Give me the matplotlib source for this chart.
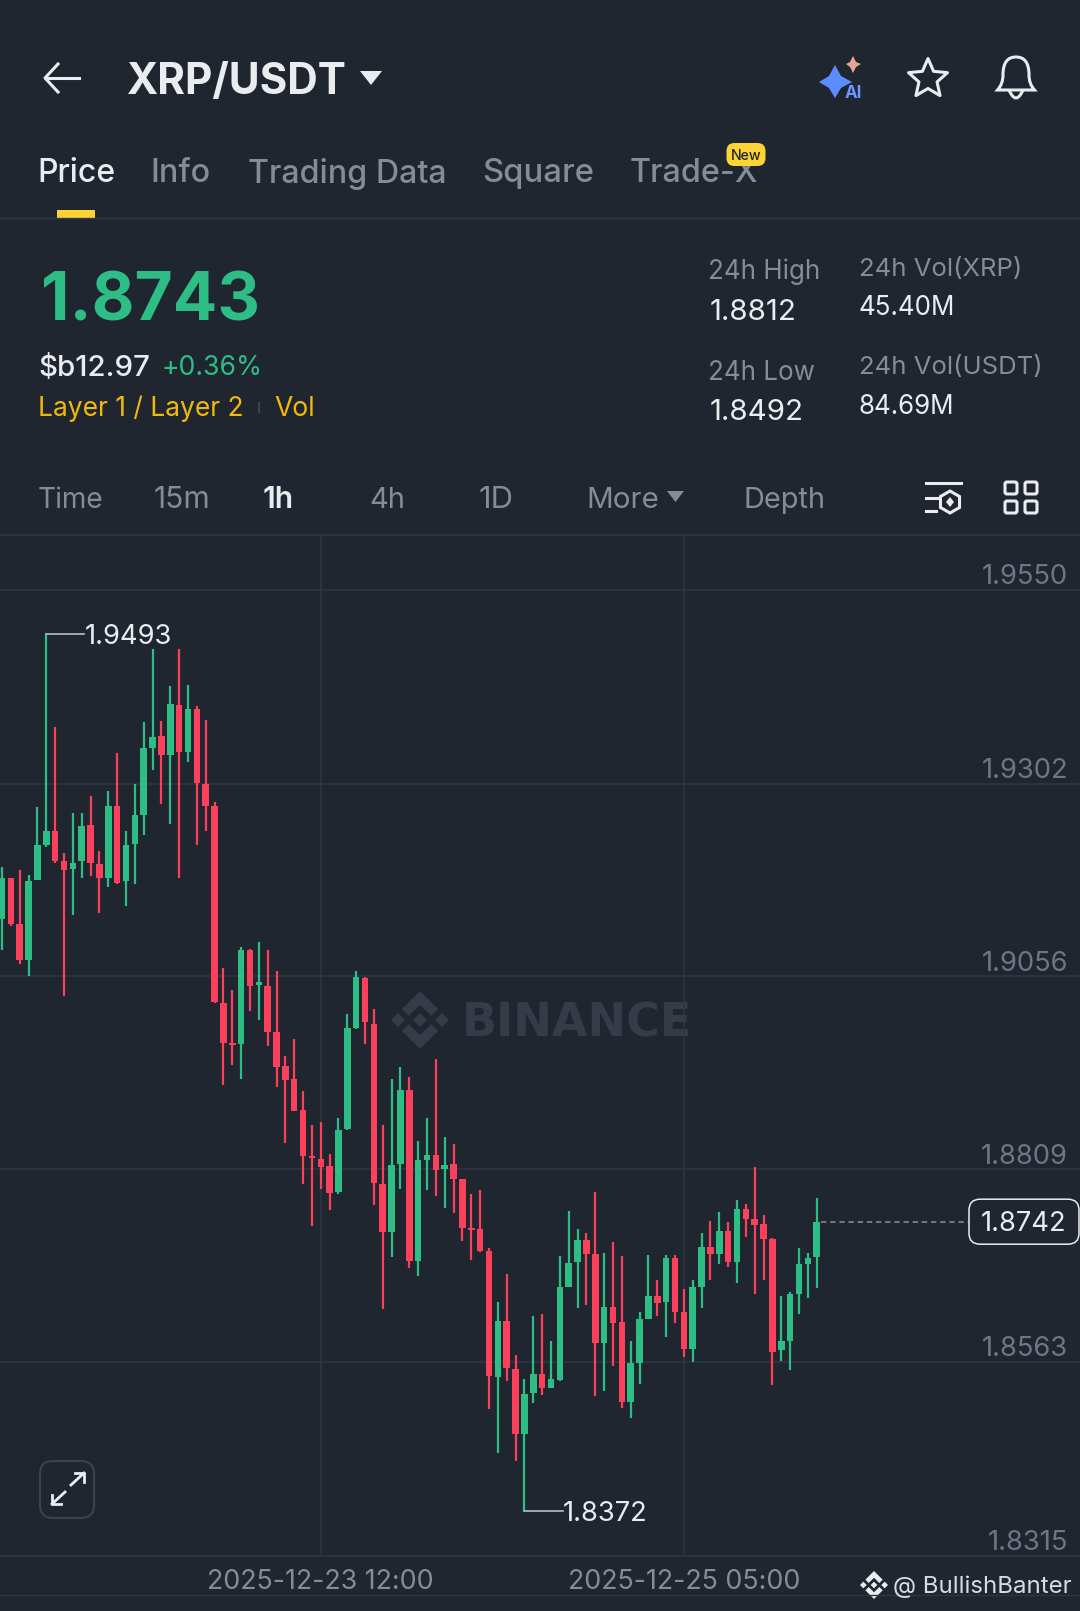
# xrp_chart.py
# Binance style XRP/USDT 1h candle screen, drawn with matplotlib
import matplotlib
matplotlib.use('Agg')
import matplotlib.pyplot as plt
import numpy as np
from matplotlib.patches import FancyBboxPatch, PathPatch, Polygon, RegularPolygon
from matplotlib.path import Path

plt.rcParams['font.family'] = ['Inter', 'DejaVu Sans']

# candle data, hourly
opens = [1.9129,1.9181,1.9123,1.9076,1.9179,1.9224,1.9242,1.9203,1.9193,1.9203,
         1.9249,1.9199,1.9181,1.9273,1.9177,1.9225,1.9262,1.9348,1.9363,1.9339,
         1.9403,1.9343,1.9397,1.9302,1.9273,1.9022,1.8970,1.8969,1.9089,1.9045,
         1.9043,1.8984,1.8941,1.8924,1.8885,1.8826,1.8822,1.8813,1.8780,1.8860,
         1.8989,1.9054,1.8995,1.8790,1.8729,1.8816,1.8911,1.8692,1.8821,1.8827,
         1.8809,1.8816,1.8796,1.8734,1.8733,1.8704,1.8544,1.8615,1.8554,1.8471,
         1.8523,1.8547,1.8529,1.8540,1.8659,1.8690,1.8719,1.8701,1.8587,1.8633,
         1.8614,1.8512,1.8561,1.8618,1.8647,1.8639,1.8696,1.8627,1.8579,1.8659,
         1.8710,1.8701,1.8730,1.8691,1.8758,1.8745,1.8739,1.8720,1.8578,1.8590,
         1.8650,1.8688,1.8697]
highs = [1.9195,1.9181,1.9192,1.9185,1.9272,1.9493,1.9374,1.9214,1.9265,1.9264,
         1.9286,1.9216,1.9293,1.9341,1.9242,1.9301,1.9381,1.9474,1.9382,1.9427,
         1.9474,1.9428,1.9401,1.9383,1.9279,1.9066,1.9038,1.9093,1.9090,1.9100,
         1.9089,1.9063,1.8954,1.8976,1.8909,1.8866,1.8870,1.8828,1.8875,1.9008,
         1.9063,1.9055,1.9014,1.8865,1.8925,1.8940,1.8927,1.8845,1.8875,1.8950,
         1.8850,1.8841,1.8797,1.8777,1.8783,1.8709,1.8639,1.8675,1.8572,1.8541,
         1.8622,1.8624,1.8590,1.8698,1.8756,1.8733,1.8727,1.8780,1.8702,1.8716,
         1.8698,1.8590,1.8627,1.8699,1.8667,1.8699,1.8699,1.8656,1.8667,1.8728,
         1.8743,1.8754,1.8742,1.8770,1.8765,1.8812,1.8751,1.8721,1.8647,1.8652,
         1.8709,1.8702,1.8772]
lows = [1.9089,1.9120,1.9071,1.9056,1.9179,1.9221,1.9201,1.9031,1.9134,1.9182,
        1.9184,1.9137,1.9170,1.9174,1.9146,1.9174,1.9237,1.9320,1.9276,1.9251,
        1.9181,1.9330,1.9223,1.9241,1.9022,1.8917,1.8942,1.8925,1.9012,1.9000,
        1.8967,1.8914,1.8843,1.8884,1.8790,1.8736,1.8784,1.8757,1.8777,1.8859,
        1.8988,1.8969,1.8763,1.8630,1.8697,1.8784,1.8683,1.8672,1.8782,1.8775,
        1.8760,1.8753,1.8717,1.8693,1.8703,1.8503,1.8446,1.8538,1.8436,1.8372,
        1.8510,1.8520,1.8529,1.8538,1.8658,1.8632,1.8636,1.8519,1.8525,1.8557,
        1.8504,1.8491,1.8535,1.8618,1.8622,1.8595,1.8612,1.8569,1.8563,1.8632,
        1.8668,1.8688,1.8684,1.8663,1.8723,1.8650,1.8667,1.8533,1.8564,1.8553,
        1.8624,1.8645,1.8657]
closes = [1.9181,1.9123,1.9077,1.9178,1.9224,1.9242,1.9203,1.9192,1.9201,1.9248,
          1.9200,1.9181,1.9274,1.9175,1.9224,1.9262,1.9347,1.9362,1.9339,1.9404,
          1.9342,1.9397,1.9303,1.9273,1.9023,1.8971,1.8968,1.9089,1.9043,1.9048,
          1.8985,1.8940,1.8923,1.8884,1.8826,1.8823,1.8812,1.8779,1.8859,1.8989,
          1.9055,1.8997,1.8791,1.8729,1.8815,1.8910,1.8692,1.8821,1.8827,1.8808,
          1.8815,1.8796,1.8734,1.8731,1.8704,1.8545,1.8615,1.8555,1.8471,1.8522,
          1.8547,1.8529,1.8541,1.8659,1.8689,1.8719,1.8701,1.8587,1.8633,1.8613,
          1.8512,1.8561,1.8618,1.8647,1.8638,1.8696,1.8627,1.8579,1.8659,1.8710,
          1.8701,1.8730,1.8690,1.8758,1.8745,1.8738,1.8720,1.8576,1.8590,1.8650,
          1.8688,1.8696,1.8742]

price_ticks = [1.9550, 1.9302, 1.9056, 1.8809, 1.8563, 1.8315]
price_labels = ['1.9550', '1.9302', '1.9056', '1.8809', '1.8563', '1.8315']
time_ticks = [36, 77]
time_labels = ['2025-12-23 12:00', '2025-12-25 05:00']
last_price = 1.8742

BG = '#1f2630'
GRID = '#2f3541'
GREEN = '#2ebd85'
RED = '#fb405c'
WHITE = '#eaecef'
GRAY = '#858c98'
DIM = '#6f7683'
YELLOW = '#f0b90b'
WATERMARK = '#363c47'
W, H = 1080, 1611

fig = plt.figure(figsize=(10.8, 16.11), dpi=100, facecolor=BG)


def pixel_axes(zorder):
    # full figure axes, y runs down like in the screenshot
    a = fig.add_axes([0, 0, 1, 1], zorder=zorder)
    a.patch.set_visible(False)
    a.set_xlim(0, W)
    a.set_ylim(H, 0)
    a.axis('off')
    return a


# watermark goes under the chart, the app ui over it
wm = pixel_axes(0)
ui = pixel_axes(2)

# the chart itself, placed by pixels
chart_top, chart_bottom = 535, 1555.7
ax = fig.add_axes([0, 1 - chart_bottom / H, 1, (chart_bottom - chart_top) / H], zorder=1)
ax.patch.set_visible(False)
step = 8.855
ax.set_xlim(-2 / step, (W - 2) / step)
ax.set_ylim(1.8315, 1.8315 + (chart_bottom - chart_top) / 7822)

for s in ['top', 'left', 'right']:
    ax.spines[s].set_visible(False)
ax.spines['bottom'].set_color(GRID)
ax.spines['bottom'].set_linewidth(1.1)
ax.set_yticks(price_ticks)
ax.set_yticklabels([])
ax.set_xticks(time_ticks)
ax.set_xticklabels(time_labels, color=GRAY, fontsize=19.3)
ax.tick_params(axis='both', length=0)
ax.tick_params(axis='x', pad=9.5)
ax.grid(True, color=GRID, linewidth=1.1)
ax.set_axisbelow(True)

for p, lab in zip(price_ticks, price_labels):
    ax.annotate(lab, xy=(1068 / W, p), xycoords=ax.get_yaxis_transform(), xytext=(0, 9),
                textcoords='offset points', ha='right', va='center', color=DIM, fontsize=19.7)

# candles
x = np.arange(len(opens))
o = np.array(opens)
h = np.array(highs)
l = np.array(lows)
c = np.array(closes)
colors = [GREEN if c[i] >= o[i] else RED for i in range(len(o))]
ax.vlines(x, l, h, colors=colors, linewidth=1.6, zorder=3)
ax.bar(x, np.abs(c - o), bottom=np.minimum(o, c), width=0.74, color=colors, zorder=4)

# high and low markers
i_hi = int(np.argmax(h))
i_lo = int(np.argmin(l))
ax.plot([i_hi, i_hi + 4.3], [h[i_hi], h[i_hi]], color='#b9bdc4', lw=1.2, zorder=3)
ax.annotate('%.4f' % h[i_hi], xy=(i_hi + 4.35, h[i_hi]), xytext=(0, -1.8), textcoords='offset points',
            color=WHITE, fontsize=19.7, va='center')
ax.plot([i_lo, i_lo + 4.3], [l[i_lo], l[i_lo]], color='#b9bdc4', lw=1.2, zorder=3)
ax.annotate('%.4f' % l[i_lo], xy=(i_lo + 4.35, l[i_lo]), xytext=(0, -1.8), textcoords='offset points',
            color=WHITE, fontsize=19.7, va='center')

# last price line and box, box goes on the pixel overlay
last_y = ui.transData.inverted().transform(ax.transData.transform((0, last_price)))[1]
ax.plot([len(o) - 0.5, 109.2], [last_price, last_price], color='#8a909b', lw=1.1,
        dashes=(3.5, 2.5), zorder=3)
ui.add_patch(FancyBboxPatch((969, last_y - 22.5), 110, 45, boxstyle='round,pad=0,rounding_size=11',
                            fc=BG, ec=WHITE, lw=1.1))
ui.text(1024, last_y + 2, '%.4f' % last_price, color=WHITE, fontsize=19.7, ha='center', va='center')


def txt(px, py, s, size, color=WHITE, weight='normal', ha='left'):
    # inter sits high when centered, push it down a little
    ui.text(px, py + size * 0.075, s, fontsize=size * 0.72, color=color, weight=weight, ha=ha, va='center')


def logo(axes, cx, cy, r, color):
    # diamonds and chevrons of the exchange mark
    parts = [[(0, -.24), (.24, 0), (0, .24), (-.24, 0)],
             [(-.76, -.24), (-.52, 0), (-.76, .24), (-1, 0)],
             [(.76, -.24), (1, 0), (.76, .24), (.52, 0)],
             [(0, -1), (.62, -.38), (.38, -.14), (0, -.52), (-.38, -.14), (-.62, -.38)],
             [(0, 1), (.62, .38), (.38, .14), (0, .52), (-.38, .14), (-.62, .38)]]
    for part in parts:
        pts = [(cx + a * r, cy + b * r) for a, b in part]
        axes.add_patch(Polygon(pts, closed=True, fc=color, ec='none'))


# header
ui.plot([46, 79], [78, 78], color=WHITE, lw=2.2)
ui.plot([58, 45, 58], [64, 78, 92], color=WHITE, lw=2.2, solid_joinstyle='round')
txt(127, 79, 'XRP/USDT', 42.3, weight='bold')
ui.add_patch(Polygon([(360, 71), (382, 71), (371, 85)], fc=WHITE, ec='none'))

# AI star
ui.add_patch(Polygon([(835, 65), (841, 76), (852, 82), (841, 88), (835, 98), (829, 88), (819, 82), (829, 76)],
                     fc='#5b8dff', ec='none'))
ui.add_patch(Polygon([(853, 56), (856, 62), (861, 64), (856, 67), (853, 73), (850, 67), (846, 64), (850, 62)],
                     fc='#e3a596', ec='none'))
txt(853, 92, 'AI', 17, color='#6f93ff', weight='bold', ha='center')

# favourite star
angs = np.deg2rad(np.arange(-90, 270, 36))
rads = np.array([20.5, 9.5] * 5)
ui.add_patch(Polygon(np.column_stack([928 + rads * np.cos(angs), 79 + rads * np.sin(angs)]),
                     fc='none', ec=WHITE, lw=2.2, joinstyle='round'))

# bell
bx = 1016
bell = Path([(bx - 18.5, 90), (bx - 13, 84), (bx - 13, 75), (bx - 13, 62), (bx - 8, 57), (bx, 57),
             (bx + 8, 57), (bx + 13, 62), (bx + 13, 75), (bx + 13, 84), (bx + 18.5, 90), (bx - 18.5, 90)],
            [Path.MOVETO, Path.CURVE3, Path.CURVE3, Path.CURVE4, Path.CURVE4, Path.CURVE4,
             Path.CURVE4, Path.CURVE4, Path.CURVE4, Path.CURVE3, Path.CURVE3, Path.CLOSEPOLY])
ui.add_patch(PathPatch(bell, fc='none', ec=WHITE, lw=2.2))
clapper = Path([(bx - 7, 90), (bx, 106), (bx + 7, 90)], [Path.MOVETO, Path.CURVE3, Path.CURVE3])
ui.add_patch(PathPatch(clapper, fc='none', ec=WHITE, lw=2.2))

# tabs
txt(37, 171.5, 'Price', 32, weight='medium')
txt(150, 171.5, 'Info', 32.3, color=GRAY, weight='medium')
txt(248, 171.5, 'Trading Data', 32.2, color=GRAY, weight='medium')
txt(482, 171.5, 'Square', 32.8, color=GRAY, weight='medium')
txt(630, 171.5, 'Trade-X', 32.3, color=GRAY, weight='medium')
ui.add_patch(FancyBboxPatch((726.5, 143), 39, 23, boxstyle='round,pad=0,rounding_size=8', fc='#fcd535', ec='none',
                            zorder=5))
ui.text(746, 155.5, 'New', fontsize=10.2, color='#1e2329', weight='medium', ha='center', va='center', zorder=6)
ui.add_patch(plt.Rectangle((57, 210), 38, 8, fc='#fcd535', ec='none'))
ui.plot([0, W], [218, 218], color='#343a46', lw=1)

# price block
txt(41, 298, '1.8743', 66, color=GREEN, weight='bold')
txt(38, 366, '$b12.97', 29.5, weight='medium')
txt(161, 366, '+0.36%', 26.6, color=GREEN)
txt(38, 407, 'Layer 1 / Layer 2', 26.4, color=YELLOW)
ui.plot([259, 259], [403, 412], color='#3d434e', lw=1.5)
txt(274, 407, 'Vol', 26.5, color=YELLOW)

txt(708, 270, '24h High', 26, color=GRAY)
txt(710, 310, '1.8812', 29.5)
txt(859, 268, '24h Vol(XRP)', 25.7, color=GRAY)
txt(859, 306, '45.40M', 26)
txt(708, 371, '24h Low', 26, color=GRAY)
txt(710, 410, '1.8492', 29.5)
txt(859, 366, '24h Vol(USDT)', 25.7, color=GRAY)
txt(859, 405.5, '84.69M', 26)

# interval row
txt(38, 498, 'Time', 28, color=GRAY)
txt(154, 498, '15m', 30, color=GRAY)
txt(263, 498, '1h', 30, weight='semibold')
txt(369, 498, '4h', 29, color=GRAY)
txt(479, 498, '1D', 31, color=GRAY)
txt(586, 498, 'More', 29.5, color=GRAY)
ui.add_patch(Polygon([(667, 491), (684, 491), (675.5, 502)], fc=GRAY, ec='none'))
txt(744, 498, 'Depth', 29, color=GRAY)
ui.plot([0, W], [535, 535], color=GRID, lw=1.3)

# indicator icon
ui.plot([926, 961], [483, 483], color=WHITE, lw=2.2)
ui.plot([926, 938], [498, 498], color=WHITE, lw=2.2)
ui.plot([926, 936], [511, 511], color=WHITE, lw=2.2)
ui.add_patch(RegularPolygon((950, 502), 6, radius=11, fc='none', ec=WHITE, lw=2.2))
ui.add_patch(Polygon([(950, 497), (954, 502), (950, 507), (946, 502)], fc=WHITE, ec='none'))

# layout icon
for gx in [1005, 1025]:
    for gy in [482, 501]:
        ui.add_patch(FancyBboxPatch((gx, gy), 12, 12, boxstyle='round,pad=0,rounding_size=2',
                                    fc='none', ec=WHITE, lw=2.2))

# watermark
logo(wm, 420, 1020, 29, WATERMARK)
wm.text(462, 1024, 'BINANCE', fontsize=46 * 0.72, color=WATERMARK, weight='bold',
        family='DejaVu Sans', va='center')

# expand button
ui.add_patch(FancyBboxPatch((40, 1461), 54, 57, boxstyle='round,pad=0,rounding_size=13',
                            fc=BG, ec='#3c424d', lw=1.5))
ui.plot([71, 84], [1485, 1473], color=WHITE, lw=2)
ui.plot([75, 84, 84], [1473, 1473, 1482], color=WHITE, lw=2)
ui.plot([65, 52], [1492, 1504], color=WHITE, lw=2)
ui.plot([52, 52, 61], [1495, 1504, 1504], color=WHITE, lw=2)

# footer
ui.plot([0, W], [1595, 1595], color=GRID, lw=1)
logo(ui, 874, 1585, 14, '#eaecef')
txt(893, 1585, '@ BullishBanter', 24, color='#d9dbdf')

fig.savefig('out.png', dpi=100, facecolor=BG)
